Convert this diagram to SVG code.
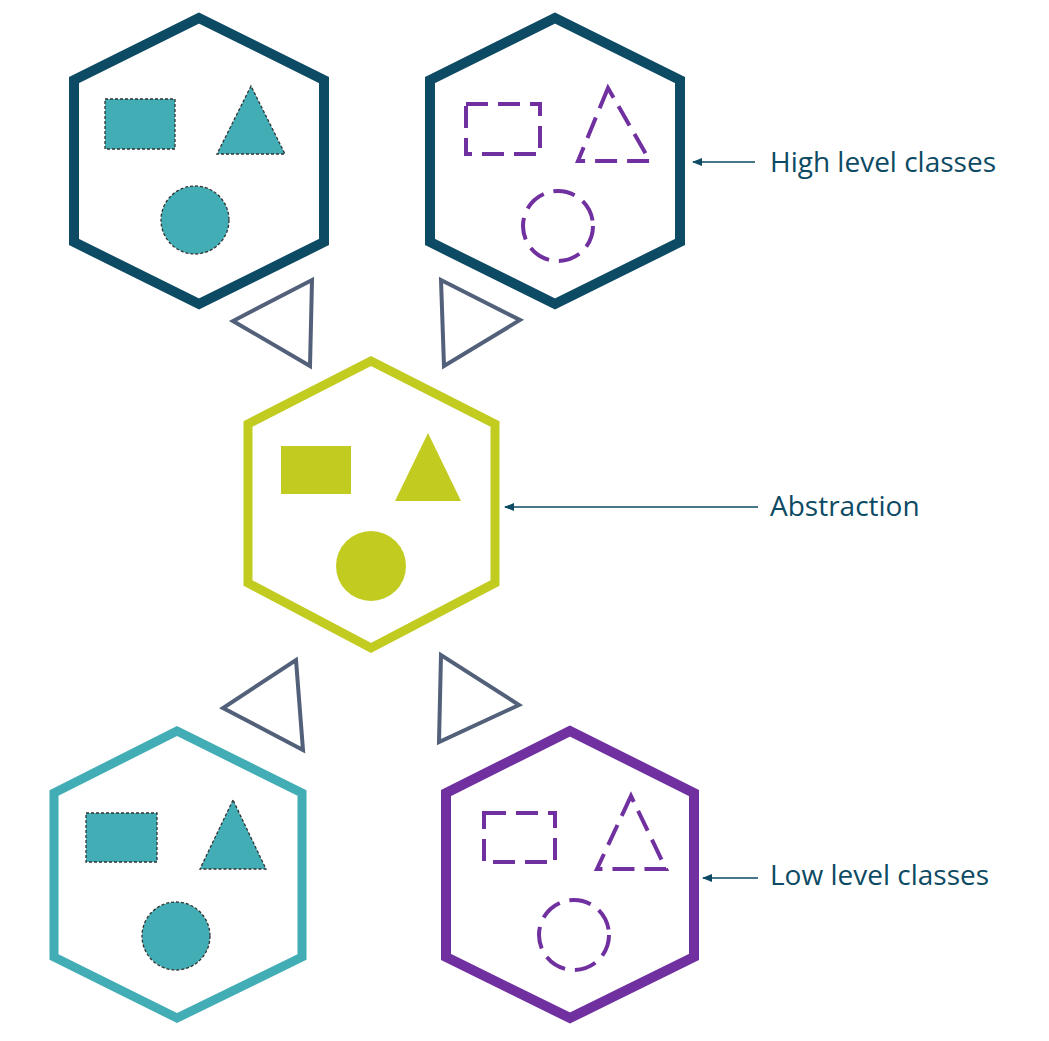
<svg xmlns="http://www.w3.org/2000/svg" width="1049" height="1041" viewBox="0 0 1049 1041">
<style>
.hex{fill:#fff;stroke-linejoin:miter}
.tfill{fill:#42adb5;stroke:#333;stroke-width:1.3;stroke-dasharray:3 2}
.pdash{fill:none;stroke:#7030a0;stroke-width:4;stroke-dasharray:22 10}
.yf{fill:#c2cb20}
.tri{fill:#fff;stroke:#53607a;stroke-width:4;stroke-linejoin:miter}
.lbl{font-family:"Open Sans","Liberation Sans",sans-serif;font-size:28px;fill:#0d4a63}
.ptr{stroke:#0d4a63;stroke-width:1.3;fill:none}
</style>
<defs><marker id="ah" markerWidth="10" markerHeight="8" refX="9" refY="4" orient="auto" markerUnits="userSpaceOnUse"><path d="M0,0 L10,4 L0,8 Z" fill="#0d4a63"/></marker></defs>
<g id="hex-tl">
<polygon class="hex" points="199,18 74,80 74,242 199,304 324,242 324,80" stroke="#0d4a63" stroke-width="10"/>
<rect class="tfill" x="105" y="99" width="70" height="50"/>
<polygon class="tfill" points="251,86 217,154 285,154"/>
<circle class="tfill" cx="195" cy="220" r="34"/>
</g>
<g id="hex-tr">
<polygon class="hex" points="555,18 430,80 430,242 555,304 680,242 680,80" stroke="#0d4a63" stroke-width="10"/>
<rect class="pdash" x="466" y="104" width="74" height="50"/>
<polygon class="pdash" points="608,88 578,161 650,161"/>
<circle class="pdash" cx="558" cy="226" r="35"/>
</g>
<g id="hex-center">
<polygon class="hex" points="371,361 248,424 248,583 371,648 495,583 495,424" stroke="#c2cb20" stroke-width="9"/>
<rect class="yf" x="281" y="446" width="70" height="48"/>
<polygon class="yf" points="428,433 395,501 461,501"/>
<circle class="yf" cx="371" cy="566" r="35"/>
</g>
<g id="hex-bl">
<polygon class="hex" points="177,731 54,793 54,957 177,1018 302,957 302,793" stroke="#42adb5" stroke-width="9"/>
<rect class="tfill" x="86" y="813" width="71" height="49"/>
<polygon class="tfill" points="233,800 200,869 266,869"/>
<circle class="tfill" cx="176" cy="936" r="34"/>
</g>
<g id="hex-br">
<polygon class="hex" points="570,731 446,793 446,957 570,1018 694,957 694,793" stroke="#7030a0" stroke-width="10"/>
<rect class="pdash" x="484" y="813" width="71" height="49"/>
<polygon class="pdash" points="631,796 597,869 666,869"/>
<circle class="pdash" cx="574" cy="935" r="35"/>
</g>
<g id="connectors">
<polygon class="tri" points="312,280 310,366 233,321"/>
<polygon class="tri" points="441,280 444,366 520,320"/>
<polygon class="tri" points="296,660 303,750 223,708"/>
<polygon class="tri" points="441,655 439,742 519,705"/>
<line class="ptr" x1="755" y1="162" x2="693" y2="162" marker-end="url(#ah)"/>
<line class="ptr" x1="758" y1="507" x2="505" y2="507" marker-end="url(#ah)"/>
<line class="ptr" x1="758" y1="878" x2="703" y2="878" marker-end="url(#ah)"/>
</g>
<g id="labels">
<text class="lbl" x="770" y="172">High level classes</text>
<text class="lbl" x="770" y="516">Abstraction</text>
<text class="lbl" x="770" y="885">Low level classes</text>
</g>
</svg>
